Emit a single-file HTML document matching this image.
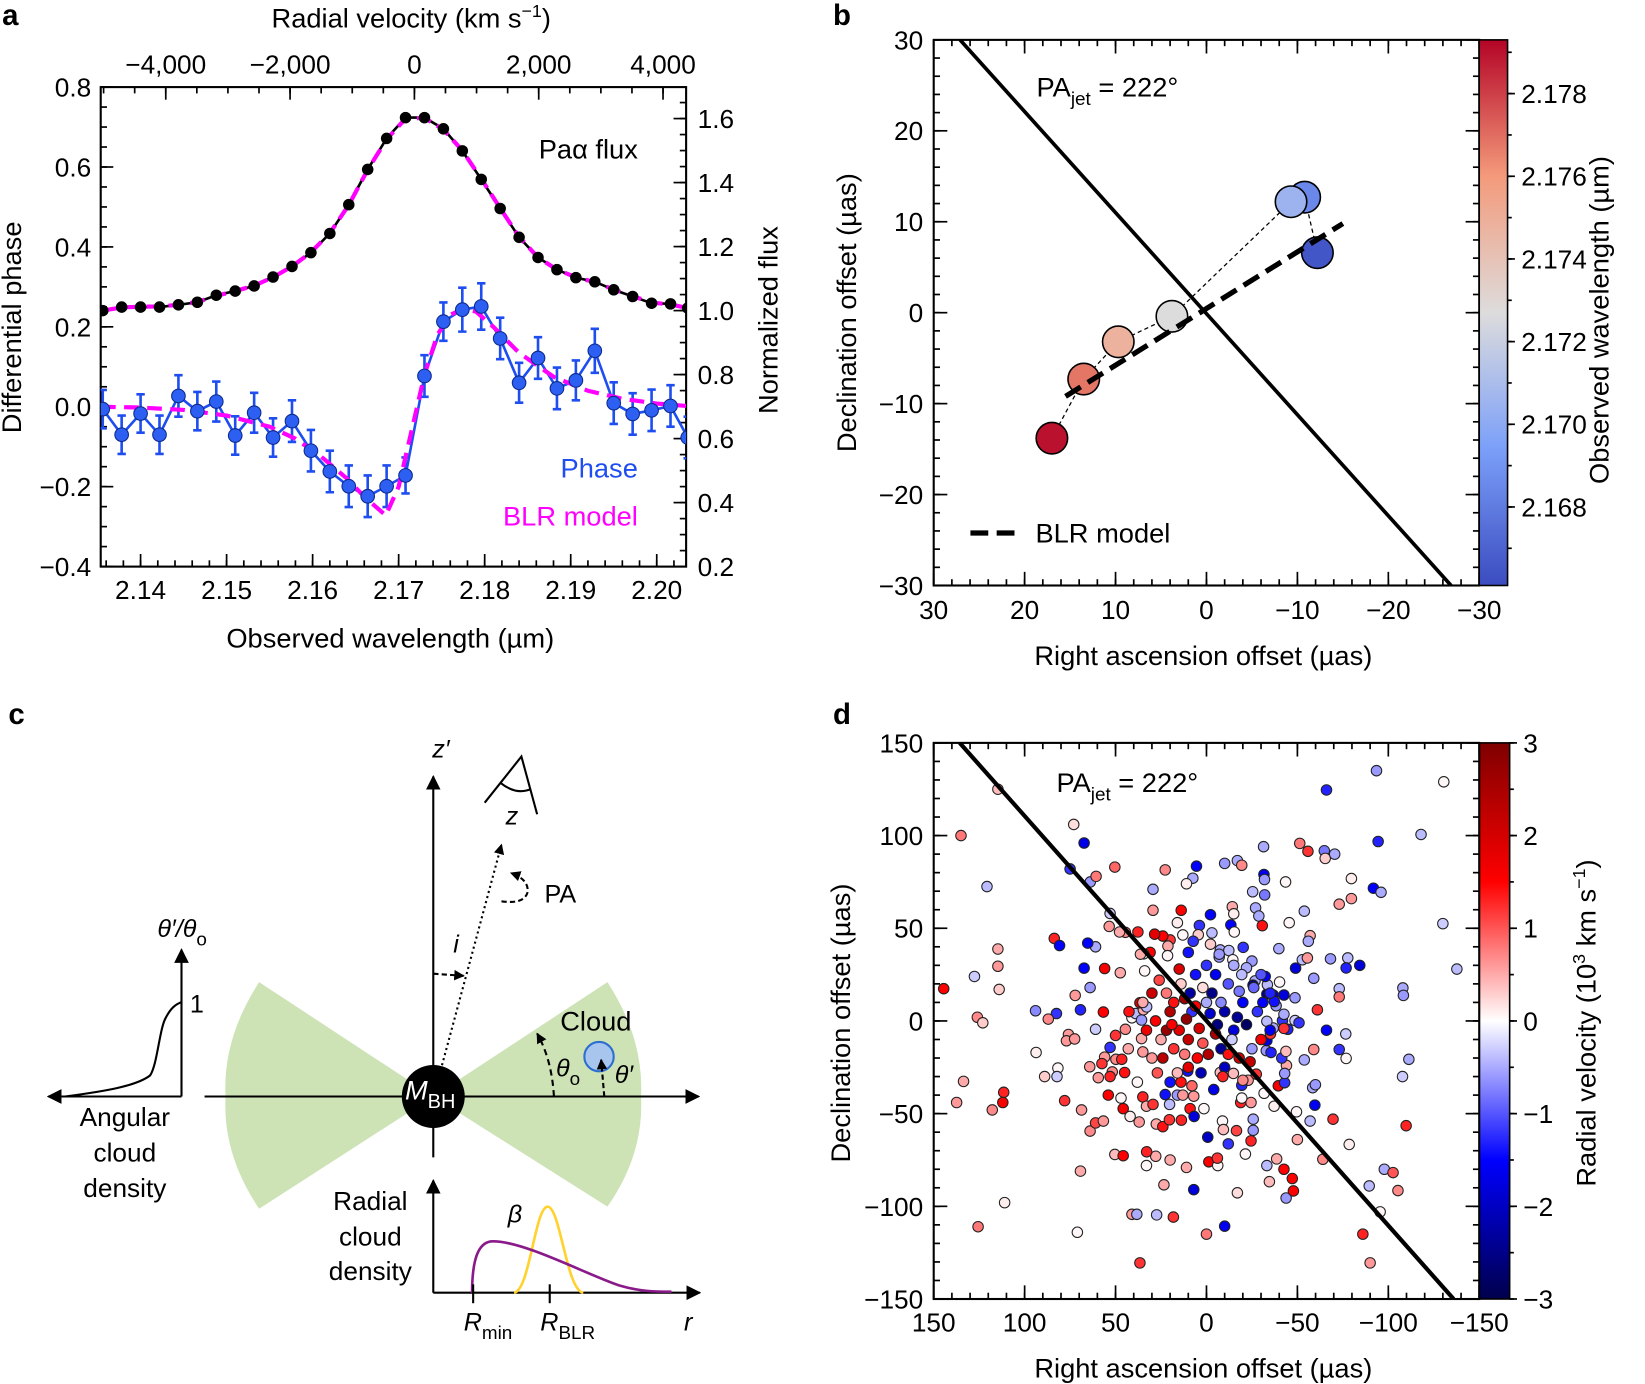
<!DOCTYPE html>
<html><head><meta charset="utf-8">
<style>
html,body{margin:0;padding:0;background:#fff;}
svg{display:block;font-family:"Liberation Sans",Arial,sans-serif;}
text{fill:#000;}
</style></head>
<body>
<svg id="fig" width="1645" height="1384" viewBox="0 0 1568 1319" preserveAspectRatio="none" xmlns="http://www.w3.org/2000/svg">
<defs>
<linearGradient id="cwGrad" x1="0" y1="1" x2="0" y2="0">
<stop offset="0" stop-color="#3b4cc0"/><stop offset="0.25" stop-color="#7b9ff9"/><stop offset="0.5" stop-color="#dddcdc"/><stop offset="0.75" stop-color="#f49a7b"/><stop offset="1" stop-color="#b40426"/>
</linearGradient>
<linearGradient id="seisGrad" x1="0" y1="1" x2="0" y2="0">
<stop offset="0" stop-color="#00004c"/><stop offset="0.25" stop-color="#0000ff"/><stop offset="0.5" stop-color="#ffffff"/><stop offset="0.75" stop-color="#ff0000"/><stop offset="1" stop-color="#7f0000"/>
</linearGradient>
<marker id="arr" viewBox="0 0 10 10" refX="9" refY="5" markerWidth="7" markerHeight="7" orient="auto-start-reverse"><path d="M0 0 L10 5 L0 10 z" fill="#000"/></marker>
<marker id="arrs" viewBox="0 0 10 10" refX="9" refY="5" markerWidth="5" markerHeight="5" orient="auto-start-reverse"><path d="M0 0 L10 5 L0 10 z" fill="#000"/></marker>
</defs>

<!-- panel labels -->
<text x="2" y="24" font-size="28" font-weight="bold">a</text>
<text x="794" y="24" font-size="28" font-weight="bold">b</text>
<text x="8" y="690" font-size="28" font-weight="bold">c</text>
<text x="794" y="690" font-size="28" font-weight="bold">d</text>

<!-- panel a static text -->
<g id="pa">
<text x="392" y="26" font-size="26" text-anchor="middle">Radial velocity (km s<tspan font-size="17" dy="-10">−1</tspan><tspan dy="10">)</tspan></text>
<text x="372" y="617" font-size="26" text-anchor="middle">Observed wavelength (µm)</text>
<text transform="translate(20,312) rotate(-90)" font-size="26" text-anchor="middle">Differential phase</text>
<text transform="translate(741,305) rotate(-90)" font-size="26" text-anchor="middle">Normalized flux</text>
<text x="608" y="151" font-size="26" text-anchor="end">Paα flux</text>
<text x="608" y="455" font-size="26" text-anchor="end" style="fill:#1f4ef0">Phase</text>
<text x="608" y="501" font-size="26" text-anchor="end" style="fill:#ff00ff">BLR model</text>
</g>

<!-- panel b static -->
<g id="pb">
<text x="1147" y="634" font-size="26" text-anchor="middle">Right ascension offset (µas)</text>
<text transform="translate(816,298) rotate(-90)" font-size="26" text-anchor="middle">Declination offset (µas)</text>
<text transform="translate(1533,305) rotate(-90)" font-size="26" text-anchor="middle">Observed wavelength (µm)</text>
<text x="988" y="92" font-size="26">PA<tspan font-size="18" dy="8">jet</tspan><tspan dy="-8"> = 222°</tspan></text>
<line x1="925" y1="508" x2="972" y2="508" stroke="#000" stroke-width="5" stroke-dasharray="17,8"/>
<text x="987" y="517" font-size="26">BLR model</text>
</g>

<!-- panel c diagram -->
<g id="pc">
<path d="M413 1045 L247 936 Q212 990 215 1045 Q212 1100 247 1152 Z" fill="#cde3b6"/>
<path d="M413 1045 L579 936 Q614 990 611 1045 Q614 1100 579 1150 Z" fill="#cde3b6"/>
<line x1="413" y1="1103" x2="413" y2="740" stroke="#000" stroke-width="2" marker-end="url(#arr)"/>
<line x1="195" y1="1045" x2="666" y2="1045" stroke="#000" stroke-width="2" marker-end="url(#arr)"/>
<text x="412" y="722" font-size="24" font-style="italic">z′</text>
<line x1="420" y1="1020" x2="478" y2="805" stroke="#000" stroke-width="2" stroke-dasharray="2,3" marker-end="url(#arrs)"/>
<path d="M462 765 L497 721 L512 776 M477 746 Q492 758 506 752" fill="none" stroke="#000" stroke-width="2"/>
<text x="482" y="786" font-size="24" font-style="italic">z</text>
<path d="M478 859 Q500 862 503 850 Q504 838 487 832" fill="none" stroke="#000" stroke-width="2" stroke-dasharray="5,3" marker-end="url(#arrs)"/>
<text x="519" y="860" font-size="24">PA</text>
<text x="432" y="908" font-size="24" font-style="italic">i</text>
<path d="M413 928 L442 930" fill="none" stroke="#000" stroke-width="2" stroke-dasharray="5,3" marker-end="url(#arrs)"/>
<circle cx="413" cy="1045" r="30" fill="#000"/>
<text x="386" y="1048" font-size="26" font-style="italic" style="fill:#fff">M<tspan font-style="normal" font-size="19" dy="8">BH</tspan></text>
<text x="534" y="982" font-size="26">Cloud</text>
<circle cx="571" cy="1007" r="14" fill="#a8c5ee" stroke="#2c6fd0" stroke-width="2"/>
<path d="M528 1045 Q526 1010 512 985" fill="none" stroke="#000" stroke-width="2" stroke-dasharray="6,4" marker-end="url(#arrs)"/>
<text x="530" y="1026" font-size="24" font-style="italic">θ<tspan font-style="normal" font-size="18" dy="8">o</tspan></text>
<path d="M576 1045 L573 1010" fill="none" stroke="#000" stroke-width="2" stroke-dasharray="5,3" marker-end="url(#arrs)"/>
<text x="586" y="1032" font-size="24" font-style="italic">θ′</text>
<!-- angular density plot -->
<line x1="173" y1="1045" x2="173" y2="905" stroke="#000" stroke-width="2" marker-end="url(#arr)"/>
<line x1="173" y1="1045" x2="46" y2="1045" stroke="#000" stroke-width="2" marker-end="url(#arr)"/>
<path d="M62 1045 C100 1040 130 1035 143 1025 C150 1015 152 980 158 970 C163 960 168 957 173 955" fill="none" stroke="#000" stroke-width="2"/>
<text x="150" y="893" font-size="24" font-style="italic">θ′/θ<tspan font-style="normal" font-size="18" dy="8">o</tspan></text>
<text x="181" y="965" font-size="24">1</text>
<text font-size="25" text-anchor="middle"><tspan x="119" y="1073">Angular</tspan><tspan x="119" y="1107">cloud</tspan><tspan x="119" y="1141">density</tspan></text>
<!-- radial density plot -->
<line x1="413" y1="1232" x2="413" y2="1125" stroke="#000" stroke-width="2" marker-end="url(#arr)"/>
<line x1="413" y1="1232" x2="667" y2="1232" stroke="#000" stroke-width="2" marker-end="url(#arr)"/>
<path d="M490 1232 C505 1230 510 1150 522 1150 C534 1150 540 1230 556 1232" fill="none" stroke="#ffd22e" stroke-width="2.5"/>
<path d="M450 1232 C450 1195 458 1183 470 1183 C500 1183 560 1215 590 1225 C610 1231 625 1231 640 1231" fill="none" stroke="#8a1a8a" stroke-width="2.5"/>
<line x1="451" y1="1224" x2="451" y2="1242" stroke="#000" stroke-width="2"/>
<line x1="524" y1="1224" x2="524" y2="1242" stroke="#000" stroke-width="2"/>
<text x="484" y="1165" font-size="24" font-style="italic">β</text>
<text x="442" y="1268" font-size="24" font-style="italic">R<tspan font-style="normal" font-size="18" dy="8">min</tspan></text>
<text x="515" y="1268" font-size="24" font-style="italic">R<tspan font-style="normal" font-size="18" dy="8">BLR</tspan></text>
<text x="652" y="1268" font-size="24" font-style="italic">r</text>
<text font-size="25" text-anchor="middle"><tspan x="353" y="1153">Radial</tspan><tspan x="353" y="1187">cloud</tspan><tspan x="353" y="1220">density</tspan></text>
</g>

<!-- panel d static -->
<g id="pd">
<text x="1147" y="1313" font-size="26" text-anchor="middle">Right ascension offset (µas)</text>
<text transform="translate(810,975) rotate(-90)" font-size="26" text-anchor="middle">Declination offset (µas)</text>
<text transform="translate(1521,975) rotate(-90)" font-size="26" text-anchor="middle">Radial velocity (10<tspan font-size="17" dy="-10">3</tspan><tspan dy="10"> km s</tspan><tspan font-size="17" dy="-10">−1</tspan><tspan dy="10">)</tspan></text>
<text x="1007" y="755" font-size="26">PA<tspan font-size="18" dy="8">jet</tspan><tspan dy="-8"> = 222°</tspan></text>
</g>

<script>
// ---------- DATA: panel a ----------
const fluxWavelength = [2.1356,2.1378,2.1400,2.1422,2.1444,2.1466,2.1488,2.1510,2.1532,2.1554,2.1576,2.1598,2.1620,2.1642,2.1664,2.1686,2.1708,2.1730,2.1752,2.1774,2.1796,2.1818,2.1840,2.1862,2.1884,2.1906,2.1928,2.1950,2.1972,2.1994,2.2016,2.2036];
const fluxValues = [1.000,1.011,1.011,1.011,1.018,1.026,1.048,1.061,1.077,1.105,1.138,1.181,1.241,1.331,1.441,1.538,1.603,1.603,1.568,1.499,1.410,1.319,1.229,1.166,1.128,1.103,1.090,1.065,1.044,1.023,1.021,1.008];
const fluxModel = [1.000,1.010,1.012,1.013,1.018,1.027,1.046,1.061,1.078,1.104,1.138,1.182,1.242,1.330,1.440,1.535,1.600,1.602,1.566,1.500,1.412,1.320,1.230,1.166,1.128,1.104,1.089,1.066,1.045,1.025,1.019,1.008];
const phaseValues = [-0.006,-0.070,-0.017,-0.070,0.027,-0.011,0.013,-0.072,-0.015,-0.077,-0.036,-0.110,-0.162,-0.199,-0.224,-0.199,-0.172,0.077,0.213,0.243,0.251,0.171,0.060,0.122,0.046,0.066,0.140,0.009,-0.018,-0.009,0.002,-0.077];
const phaseErrors = [0.048,0.048,0.048,0.048,0.052,0.048,0.050,0.048,0.050,0.048,0.052,0.052,0.052,0.052,0.052,0.052,0.045,0.052,0.048,0.055,0.058,0.052,0.050,0.052,0.052,0.050,0.055,0.052,0.052,0.052,0.052,0.052];
const modelWavelength = [2.1354,2.140,2.145,2.150,2.155,2.158,2.161,2.164,2.166,2.1685,2.1700,2.1715,2.1730,2.1745,2.1760,2.1775,2.1790,2.1810,2.1840,2.1880,2.1920,2.1960,2.2000,2.2034];
const modelPhase = [0.000,-0.002,-0.008,-0.022,-0.050,-0.080,-0.125,-0.180,-0.225,-0.272,-0.200,-0.060,0.080,0.180,0.230,0.245,0.238,0.200,0.135,0.075,0.040,0.020,0.008,0.002];
const xTicksA = [2.14,2.15,2.16,2.17,2.18,2.19,2.20];
const xTickLabelsA = ["2.14","2.15","2.16","2.17","2.18","2.19","2.20"];
const yTicksLeftA = [-0.4,-0.2,0.0,0.2,0.4,0.6,0.8];
const yTickLabelsLeftA = ["−0.4","−0.2","0.0","0.2","0.4","0.6","0.8"];
const yTicksRightA = [0.2,0.4,0.6,0.8,1.0,1.2,1.4,1.6];
const yTickLabelsRightA = ["0.2","0.4","0.6","0.8","1.0","1.2","1.4","1.6"];
const velTicks = [-4000,-2000,0,2000,4000];
const velTickLabels = ["−4,000","−2,000","0","2,000","4,000"];

// ---------- DATA: panel b ----------
const raB = [17.0,13.5,9.7,3.8,-9.3,-10.8,-12.2];
const decB = [-13.8,-7.3,-3.2,-0.4,12.2,12.7,6.6];
const wavelengthB = [2.1790,2.1768,2.1748,2.1727,2.1705,2.1685,2.1665];
const blrModelRA = [15.5,-15.0];
const blrModelDec = [-9.2,9.8];
const jetRA = [27.1,-26.9];
const jetDec = [30,-30];
const ticksB = [-30,-20,-10,0,10,20,30];
const tickLabelsB = ["−30","−20","−10","0","10","20","30"];
const cbTicksB = [2.168,2.170,2.172,2.174,2.176,2.178];
const cbTickLabelsB = ["2.168","2.170","2.172","2.174","2.176","2.178"];

// ---------- DATA: panel d ----------
const raD = [114.7,135,120.7,73,67.3,75,63.9,60.7,50.4,53,144.5,127.6,114.7,114.7,114,126,123,94,82.5,87,83.7,80.8,93.7,75.9,77,72.5,81.7,82.2,89,133.6,137.4,117.8,111.5,112,125.6,111,71,69.3,78,68.7,64,61,56.7,50.4,45.8,41,38.3,36.6,27.4,23.4,18.2,7,11,0,-10,-17,-0.7,-1.3,-6.2,-6,-12,-16.5,-24.5,-21.4,-25.7,-33.2,-34.6,-38.6,-42.6,-43.8,-47.2,-47.8,-50,-49.5,-57,-64,-69.6,-78.5,-89.5,-95.5,-86,-90,-97.8,-102.6,-105.3,-109.8,-107.8,-111.3,-76.8,-76.6,-73,-66,-59.6,-58.4,-59.9,-59,-53.8,-59,-68.2,-77.7,-76.8,-84.3,-73,-73,-61,-108,-108.3,-137.7,-130,-130.5,-93.5,-66,-118,-94.4,-91.8,-96,-79.7,-79.7,-73,-51.3,-55.8,-64.8,-65.3,-70.5,-43.5,-45.5,-53.8,-57,-56,-52.7,-55.5,-49,-31.4,-31.6,-31.9,-32,-39.8,-17,-19.4,-10,-25.4,-27,-28.8,-30.7,-14.2,-15,-13.4,-15.3,5.5,7.5,11,22.7,29.4,29.4,13.9,-2.2,16,13,3.9,4.5,-3,-2.2,7.3,20,24,28.5,31,34.5,21.2,21.4,10,-7.6,-12.3,-7,-20.2,-14.5,-25,34,36.3,37.7,44.6,47.8,53.5,47.4,56,61,65.3,67.3,64,72.2,69.3,56.7,61,50,53,56,64.2,57.5,59.5,51.8,49.8,46.6,45,53,54,47,45.8,42,37,43,44.6,35,35.7,41,38.9,35.7,42.6,34.7,36.6,32.9,38,35,33,27.6,27.9,33,32.9,20,24,29.4,22.7,20.3,16,14,10.3,7,9,6.8,1.4,13.8,20.4,-8.8,-9.3,-7.6,-14.8,-22.9,-19.4,-25.7,-24.5,-18.8,-19.4,-27.4,-31.7,-37.2,-39.5,-43,-44,-43,-41.4,-43.7,-32.9,-35.5,-33.2,-35.2,-36.7,-33.2,-41.8,-44.7,-42.6,-48.7,-50.9,-42.6,-38.3,-36.7,-42.6,-40.2,-33.2,-31,-37.3,-33.5,-48.7,-26.7,-25.6,-32.3,-22,-19.4,
-5,10,15,20,12,5,-3,-10,-15,-8,-20,8,18,25,22,-25,-12,0,2,-18,14,-5,28,30,-28,10,-10,-30,6,-22,16,24,-14,4,-6,11,-2,18,-18,26,-26,2,-9,20,-20,33,35,-35,-35,8,0,-15,15,30,-30,3,22,-12,12,-24,9,-1,27,-4,13,-7,19,-17,6,-8];
const decD = [125,100,72.5,106,96,82,75,78,83,58,17.4,24,29.5,38.8,17,2,-1,5.5,4,1,44.5,40.7,-17,-7.3,-10.7,-9.7,-25.4,-30,-30,-32.6,-44,-48,-38.5,-44,-111,-98,-114,-81,-43,-48,-59.4,-55,-54,-72,-72.7,-104.3,-104.3,-130.5,-104.6,-88.4,-105.8,-91,-79,-115,-110.7,-92.7,-62.7,-76,-78,-74,-66.3,-59.2,-64.7,-71.8,-59,-78,-86.7,-74.4,-80,-95.5,-85,-91.7,-64,-49,-54,-74.6,-53,-66.6,-89,-103,-115,-130.5,-80,-81.8,-91.5,-56.5,-30,-20.7,-20.2,-7,-15.4,-5,-45.4,-36,-34.4,-15.4,-21,23,33.5,34,28.6,30,17.4,13,6,17.8,13.8,28,52.5,129,135,124.6,100.6,96.8,71.6,69.4,76.8,66,63,95.8,91.5,91.8,87.7,90,75,53,59.2,46,43,33,34,28.5,94,79,76.3,68,39,86.5,84,85,69.7,61,56.6,51.4,61.6,57.8,51.8,48,83.5,77,74,81.5,71,59.7,59.7,57.3,53,46.4,51.5,46.5,47.5,41.4,43,43.7,45.8,46.8,37,36.2,40.4,35.2,37,38.3,38,34.5,39.7,33,32.3,27,36,48,47.8,48,51,26,28.3,40,42,28.5,18,13.8,6,4.8,-4.5,-7.8,-14.3,-19.5,-24.7,-23,-30.6,-27.5,-20.7,-20.7,-27.8,-30,-40,-41.6,-47.3,-51.5,-54.5,-15,-4.5,-16.7,-9.5,1.7,4,0.5,5,6,9.8,7.6,-33,-41,-46,-55.6,-73,-78,-70.6,-75,-57,-45,-39.7,-45,-40,-33,-27,-40.6,-47.3,-51.5,-47.3,-53.5,-53.3,-54,-58.6,-27.8,-28.3,-32,-34.7,-53,-44,-44,-41.6,-28.7,-39,-46,-35,-33.3,-24,-28.3,-20,-16.4,-16,-17,-10.6,-7,-3.8,-0.2,0.2,-4.5,-4,0.2,-1,3.6,8.2,14,14,21,14.5,10,10.5,19.5,12.5,21.6,19.3,24,28.7,25,
-7,-10,-5,5,12,-20,15,5,-5,-15,10,5,-15,-10,15,-15,20,10,-12,-20,20,25,0,-20,5,-25,-25,-10,25,-2,-28,-20,-10,-4,-2,1,4,10,16,22,18,18,-30,-33,-32,-5,10,-5,15,-35,30,30,28,15,25,-28,-5,-18,-18,-22,15,-18,-28,-37,-40,36,-2,2,8,10];
const velD = [0.4,0.8,-0.4,0.2,-1.7,-1.2,-0.6,0.8,0.9,-0.3,1.5,-0.3,0.6,0.5,0.3,0.7,0.3,-0.7,-1.2,0.7,1.3,-1.5,0.1,0.6,0.6,0.6,0.05,-0.3,0.3,0.5,0.6,0.7,1.3,1.6,0.8,0.1,0.05,0.5,1.2,0.6,0.7,1.1,0.6,0.4,1.5,0.6,-0.5,1.2,-0.4,0.5,1.2,-1.8,0.5,0.8,-1.6,0.2,-2,1.6,0.05,1.2,-1.2,1.1,1.3,0.05,-0.6,-0.4,0.4,0.5,1.5,-0.6,1.5,1.5,0.5,0.05,-0.4,0.7,1.2,0.1,-0.4,0.05,1.3,0.6,-0.5,1.0,0.7,1.3,-0.3,-0.5,0.05,-0.3,-1.2,-1.5,-1.6,-0.5,-0.6,0.7,-0.5,-0.6,-0.6,-0.4,-1.3,-1.8,-0.4,0.8,1.2,-0.5,-0.6,-0.4,-0.3,0.05,-0.6,-1.3,-0.4,-1.3,-1.5,-0.5,0.1,0.6,0.6,0.8,1.2,-0.8,0.3,-0.5,0.05,0.05,-0.4,0.5,-0.5,-0.4,0.6,-1.8,-0.5,-1.6,-0.6,-0.8,-0.5,-0.5,0.7,-0.6,-0.4,-0.5,-0.5,1.4,0.5,0.1,-1.5,0.05,-1.5,-0.5,0.1,0.7,-0.5,0.6,1.5,-1.5,0.1,0.05,-1.2,0.3,-0.4,0.3,-1.2,1.2,1.5,1.8,1.5,0.05,0.5,0.05,-1.4,-0.5,-0.4,-0.6,-1.2,0.05,-0.6,0.05,0.5,1.3,0.7,0.5,0.6,0.5,1.6,-0.5,-1.5,-1.5,-0.6,0.6,-1.3,1.5,-0.3,1.2,-1.2,0.6,0.6,1.2,0.6,0.7,0.7,1.3,1.4,1.3,1.5,0.05,1.6,0.1,0.6,0.5,0.7,0.6,0.5,0.05,-0.4,-0.6,1.4,0.5,1.8,-0.4,0.05,1.3,0.5,0.5,0.5,0.05,1.3,0.5,1.4,1.2,-1.4,-0.4,-0.6,1.4,-1.4,0.6,1.4,-1.8,0.05,1.3,1.2,0.05,0.4,0.4,0.4,0.6,-1.3,-0.5,0.6,1.3,0.05,1.2,0.05,0.1,1.6,-1.2,0.5,-0.6,-1.2,0.4,-0.6,-1.3,-1.8,1.2,-0.5,-0.4,-1.2,-1.3,1.2,-0.3,-1.2,-0.5,-0.6,-2,-1.8,0.05,-2.5,-1.5,-1.4,-0.4,-0.6,-0.5,-2.5,-1.5,-0.5,-0.4,
2.5,2.2,1.8,2.4,2.6,1.5,-2.5,-2.2,-1.8,-2.4,-1.5,-1.2,1.2,0.5,0.8,-0.6,-1,-0.5,1,2,0.3,-1.6,1.5,0.6,-1.2,1.8,-2,1.6,-1.4,-2.8,0.4,2.3,-0.3,2,-2.6,2.8,-1.9,1.4,-0.8,1.1,-0.9,0.2,1.3,-1.4,0.7,1.7,0.5,-1.6,-1.3,0.9,-1.2,-0.5,1.9,2.1,-1,-2.1,2.7,1.4,0.8,2.2,-2.3,2.4,1.0,-1.7,0.6,-0.6,1.6,-2.4,1.5,-0.7];
const ticksD = [-150,-100,-50,0,50,100,150];
const tickLabelsD = ["−150","−100","−50","0","50","100","150"];
const cbTicksD = [-3,-2,-1,0,1,2,3];
const cbTickLabelsD = ["−3","−2","−1","0","1","2","3"];
const jetRAD = [135.7,-135.9];
const jetDecD = [150,-150];

// ---------- helpers ----------
const NS = "http://www.w3.org/2000/svg";
const svg = document.getElementById('fig');
function mk(parent, tag, attrs) {
  const e = document.createElementNS(NS, tag);
  for (const k in attrs) e.setAttribute(k, attrs[k]);
  parent.appendChild(e);
  return e;
}
function hexToRgb(h){return [parseInt(h.substr(1,2),16),parseInt(h.substr(3,2),16),parseInt(h.substr(5,2),16)];}
function cmap(stops, t){
  t = Math.max(0, Math.min(1, t));
  const n = stops.length - 1;
  const i = Math.min(n - 1, Math.floor(t * n));
  const f = t * n - i;
  const a = hexToRgb(stops[i]), b = hexToRgb(stops[i + 1]);
  return 'rgb(' + a.map((v, k) => Math.round(v + (b[k] - v) * f)).join(',') + ')';
}
const coolwarm = ['#3b4cc0','#7b9ff9','#dddcdc','#f49a7b','#b40426'];
const seismic = ['#00004c','#0000ff','#ffffff','#ff0000','#7f0000'];
function range(a, b, s){const r=[]; for(let v=a; v<=b+1e-9; v+=s) r.push(+v.toFixed(6)); return r;}
function tick(g, x1, y1, x2, y2, name){
  const t = mk(g, 'line', {x1:x1, y1:y1, x2:x2, y2:y2, stroke:'#000', 'stroke-width':1.6});
  
  
}
function label(g, x, y, s, anchor, name){
  const t = mk(g, 'text', {x:x, y:y, 'font-size':25, 'text-anchor':anchor});
  t.textContent = s;
  
  
}

// ================= PANEL A =================
(function(){
  const g = document.getElementById('pa');
  const L=96, R=654, T=83, B=540;
  const xa = l => 134 + (l - 2.14) * 8200;
  const ya = p => T + (0.8 - p) * 380.8;
  const yf = f => B - (f - 0.2) * 305;
  const xv = v => 395 + v * 0.05925;
  const frame = mk(g, 'rect', {x:L, y:T, width:R-L, height:B-T, fill:'none', stroke:'#000', 'stroke-width':2});
  
  
  // bottom ticks
  range(2.136, 2.202, 0.002).forEach(v => tick(g, xa(v), B, xa(v), B-6, 'x-minor-tick-a'));
  xTicksA.forEach((v,i) => { tick(g, xa(v), B, xa(v), B-12, 'x-major-tick-a'); label(g, xa(v), 571, xTickLabelsA[i], 'middle', 'x-tick-label-a'); });
  // top velocity ticks
  range(-5500, 5000, 500).forEach(v => { if (xv(v) > L && xv(v) < R) tick(g, xv(v), T, xv(v), T+6, 'top-minor-tick'); });
  velTicks.forEach((v,i) => { tick(g, xv(v), T, xv(v), T+12, 'top-major-tick'); label(g, xv(v), 70, velTickLabels[i], 'middle', 'top-tick-label'); });
  // left
  range(-0.4, 0.8, 0.05).forEach(v => tick(g, L, ya(v), L+6, ya(v), 'y-left-minor-tick-a'));
  yTicksLeftA.forEach((v,i) => { tick(g, L, ya(v), L+12, ya(v), 'y-left-major-tick-a'); label(g, 87, ya(v)+9, yTickLabelsLeftA[i], 'end', 'y-left-tick-label-a'); });
  // right
  range(0.2, 1.7, 0.05).forEach(v => { if (yf(v) >= T) tick(g, R, yf(v), R-6, yf(v), 'y-right-minor-tick-a'); });
  yTicksRightA.forEach((v,i) => { tick(g, R, yf(v), R-12, yf(v), 'y-right-major-tick-a'); label(g, 665, yf(v)+9, yTickLabelsRightA[i], 'start', 'y-right-tick-label-a'); });

  const clip = mk(g, 'clipPath', {id:'clipA'});
  mk(clip, 'rect', {x:L, y:T, width:R-L, height:B-T});
  const pg = mk(g, 'g', {'clip-path':'url(#clipA)'});
  
  

  // flux
  const fl = mk(pg, 'polyline', {points: fluxWavelength.map((l,i)=>xa(l)+','+yf(fluxValues[i])).join(' '), fill:'none', stroke:'#000', 'stroke-width':2.5});
  
  
  const fm = mk(pg, 'polyline', {points: fluxWavelength.map((l,i)=>xa(l)+','+yf(fluxModel[i])).join(' '), fill:'none', stroke:'#ff00ff', 'stroke-width':4, 'stroke-dasharray':'14,7'});
  
  
  fluxWavelength.forEach((l,i) => {
    const eb = mk(pg, 'line', {x1:xa(l), y1:yf(fluxValues[i]+0.012), x2:xa(l), y2:yf(fluxValues[i]-0.012), stroke:'#000', 'stroke-width':2});
    
    
    const c = mk(pg, 'circle', {cx:xa(l), cy:yf(fluxValues[i]), r:5.5, fill:'#000'});
    
    
  });
  // phase
  const pl = mk(pg, 'polyline', {points: fluxWavelength.map((l,i)=>xa(l)+','+ya(phaseValues[i])).join(' '), fill:'none', stroke:'#1f4ef0', 'stroke-width':2.5});
  
  
  fluxWavelength.forEach((l,i) => {
    const x = xa(l), y1 = ya(phaseValues[i]+phaseErrors[i]), y2 = ya(phaseValues[i]-phaseErrors[i]);
    const eb = mk(pg, 'path', {d:`M${x} ${y1} L${x} ${y2} M${x-4} ${y1} L${x+4} ${y1} M${x-4} ${y2} L${x+4} ${y2}`, stroke:'#1f4ef0', 'stroke-width':2.5, fill:'none'});
    
    
  });
  const pm = mk(pg, 'polyline', {points: modelWavelength.map((l,i)=>xa(l)+','+ya(modelPhase[i])).join(' '), fill:'none', stroke:'#ff00ff', 'stroke-width':4, 'stroke-dasharray':'14,8'});
  
  
  fluxWavelength.forEach((l,i) => {
    const c = mk(pg, 'circle', {cx:xa(l), cy:ya(phaseValues[i]), r:6.5, fill:'#2c5ff2', stroke:'#0b2a8c', 'stroke-width':1});
    
    
  });
})();

// ================= PANEL B =================
(function(){
  const g = document.getElementById('pb');
  const L=890, R=1410, T=38, B=558;
  const xb = r => 1150 - r * 8.667;
  const yb = d => 298 - d * 8.667;
  const frame = mk(g, 'rect', {x:L, y:T, width:R-L, height:B-T, fill:'none', stroke:'#000', 'stroke-width':2});
  
  
  range(-30, 30, 2).forEach(v => {
    tick(g, xb(v), B, xb(v), B-6, 'x-minor-tick-b'); tick(g, xb(v), T, xb(v), T+6, 'x-minor-tick-b-top');
    tick(g, L, yb(v), L+6, yb(v), 'y-minor-tick-b'); tick(g, R, yb(v), R-6, yb(v), 'y-minor-tick-b-right');
  });
  ticksB.forEach((v,i) => {
    tick(g, xb(v), B, xb(v), B-13, 'x-major-tick-b'); tick(g, xb(v), T, xb(v), T+13, 'x-major-tick-b-top');
    tick(g, L, yb(v), L+13, yb(v), 'y-major-tick-b'); tick(g, R, yb(v), R-13, yb(v), 'y-major-tick-b-right');
    label(g, xb(v), 590, tickLabelsB[i], 'middle', 'x-tick-label-b');
    label(g, 880, yb(v)+9, tickLabelsB[i], 'end', 'y-tick-label-b');
  });
  // colorbar
  const wmin = 2.1661, wmax = 2.1793;
  const ycb = w => B - (w - wmin) / (wmax - wmin) * (B - T);
  const cb = mk(g, 'rect', {x:R, y:T, width:27, height:B-T, fill:'url(#cwGrad)', stroke:'#000', 'stroke-width':1.5});
  
  
  range(2.167, 2.179, 0.001).forEach(v => tick(g, R+27, ycb(v), R+31, ycb(v), 'colorbar-minor-tick-b'));
  cbTicksB.forEach((v,i) => { tick(g, R+27, ycb(v), R+34, ycb(v), 'colorbar-tick-b'); label(g, 1450, ycb(v)+9, cbTickLabelsB[i], 'start', 'colorbar-tick-label-b'); });

  const clip = mk(g, 'clipPath', {id:'clipB'});
  mk(clip, 'rect', {x:L, y:T, width:R-L, height:B-T});
  const pg = mk(g, 'g', {'clip-path':'url(#clipB)'});
  
  
  const conn = mk(pg, 'polyline', {points: raB.map((r,i)=>xb(r)+','+yb(decB[i])).join(' '), fill:'none', stroke:'#000', 'stroke-width':1.2, 'stroke-dasharray':'4,3'});
  
  
  const order = [6,5,4,3,2,1,0];
  order.forEach(i => {
    const c = mk(pg, 'circle', {cx:xb(raB[i]), cy:yb(decB[i]), r:15, fill:cmap(coolwarm, (wavelengthB[i]-wmin)/(wmax-wmin)), stroke:'#000', 'stroke-width':1.5});
    
    
  });
  const jet = mk(pg, 'line', {x1:xb(jetRA[0]), y1:yb(jetDec[0]), x2:xb(jetRA[1]), y2:yb(jetDec[1]), stroke:'#000', 'stroke-width':3.5});
  
  
  const blr = mk(pg, 'line', {x1:xb(blrModelRA[0]), y1:yb(blrModelDec[0]), x2:xb(blrModelRA[1]), y2:yb(blrModelDec[1]), stroke:'#000', 'stroke-width':5, 'stroke-dasharray':'17,8'});
  
  
})();

// ================= PANEL D =================
(function(){
  const g = document.getElementById('pd');
  const L=890, R=1410, T=708, B=1238;
  const xd = r => 1150 - r * 1.7333;
  const yd = d => 973 - d * 1.7667;
  range(-150, 150, 10).forEach(v => {
    tick(g, xd(v), B, xd(v), B-6, 'x-minor-tick-d'); tick(g, xd(v), T, xd(v), T+6, 'x-minor-tick-d-top');
    tick(g, L, yd(v), L+6, yd(v), 'y-minor-tick-d'); tick(g, R, yd(v), R-6, yd(v), 'y-minor-tick-d-right');
  });
  ticksD.forEach((v,i) => {
    tick(g, xd(v), B, xd(v), B-13, 'x-major-tick-d'); tick(g, xd(v), T, xd(v), T+13, 'x-major-tick-d-top');
    tick(g, L, yd(v), L+13, yd(v), 'y-major-tick-d'); tick(g, R, yd(v), R-13, yd(v), 'y-major-tick-d-right');
    label(g, xd(v), 1269, tickLabelsD[i], 'middle', 'x-tick-label-d');
    label(g, 880, yd(v)+9, tickLabelsD[i], 'end', 'y-tick-label-d');
  });
  const ycd = v => 973 - v * 88.33;
  const cb = mk(g, 'rect', {x:R, y:T, width:29, height:B-T, fill:'url(#seisGrad)', stroke:'#000', 'stroke-width':1.5});
  
  
  range(-3, 3, 0.5).forEach(v => tick(g, R+29, ycd(v), R+33, ycd(v), 'colorbar-minor-tick-d'));
  cbTicksD.forEach((v,i) => { tick(g, R+29, ycd(v), R+36, ycd(v), 'colorbar-tick-d'); label(g, 1452, ycd(v)+9, cbTickLabelsD[i], 'start', 'colorbar-tick-label-d'); });

  const clip = mk(g, 'clipPath', {id:'clipD'});
  mk(clip, 'rect', {x:L, y:T, width:R-L, height:B-T});
  const pg = mk(g, 'g', {'clip-path':'url(#clipD)'});
  
  
  raD.forEach((r,i) => {
    const c = mk(pg, 'circle', {cx:xd(r), cy:yd(decD[i]), r:5, fill:cmap(seismic, (velD[i]+3)/6), stroke:'#222', 'stroke-width':1});
    
    
  });
  const jet = mk(pg, 'line', {x1:xd(jetRAD[0]), y1:yd(jetDecD[0]), x2:xd(jetRAD[1]), y2:yd(jetDecD[1]), stroke:'#000', 'stroke-width':4});
  
  
  const frame = mk(g, 'rect', {x:L, y:T, width:R-L, height:B-T, fill:'none', stroke:'#000', 'stroke-width':2});
  
  
})();
</script>
</body></html>
